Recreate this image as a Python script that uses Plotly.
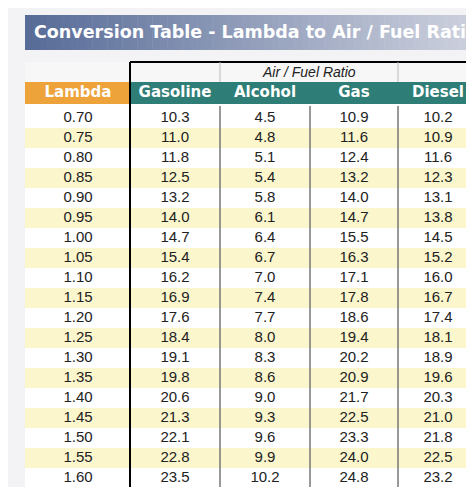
import plotly.graph_objects as go

lambdas = ["0.70", "0.75", "0.80", "0.85", "0.90", "0.95", "1.00", "1.05", "1.10", "1.15",
           "1.20", "1.25", "1.30", "1.35", "1.40", "1.45", "1.50", "1.55", "1.60"]
gasoline = [10.3, 11.0, 11.8, 12.5, 13.2, 14.0, 14.7, 15.4, 16.2, 16.9, 17.6, 18.4, 19.1, 19.8, 20.6, 21.3, 22.1, 22.8, 23.5]
alcohol = [4.5, 4.8, 5.1, 5.4, 5.8, 6.1, 6.4, 6.7, 7.0, 7.4, 7.7, 8.0, 8.3, 8.6, 9.0, 9.3, 9.6, 9.9, 10.2]
gas = [10.9, 11.6, 12.4, 13.2, 14.0, 14.7, 15.5, 16.3, 17.1, 17.8, 18.6, 19.4, 20.2, 20.9, 21.7, 22.5, 23.3, 24.0, 24.8]
diesel = [10.2, 10.9, 11.6, 12.3, 13.1, 13.8, 14.5, 15.2, 16.0, 16.7, 17.4, 18.1, 18.9, 19.6, 20.3, 21.0, 21.8, 22.5, 23.2]
headers = ["Lambda", "Gasoline", "Alcohol", "Gas", "Diesel"]
title = "Conversion Table - Lambda to Air / Fuel Ratio"

W, H = 474, 487
OFF = 8  # page body margin
col_x = [78, 175, 265, 354, 438]
row0, row_h = 118, 20
FONT = "Liberation Sans, Arial"

shapes = []
shapes.append(dict(type="rect", x0=OFF, x1=W, y0=OFF, y1=H, fillcolor="#f3f3f6", line_width=0, layer="below"))
# title bar gradient
n = 60
c0, c1 = (88, 108, 152), (205, 209, 222)
for k in range(n):
    t = k / (n - 1)
    c = tuple(int(c0[j] + (c1[j] - c0[j]) * t) for j in range(3))
    x0 = 25 + (W - 25) * k / n
    shapes.append(dict(type="rect", x0=x0, x1=x0 + (W - 25) / n + 0.5, y0=15, y1=50,
                       fillcolor="rgb(%d,%d,%d)" % c, line_width=0, layer="below"))
# table body background
shapes.append(dict(type="rect", x0=25, x1=W, y0=62, y1=H, fillcolor="white", line_width=0, layer="below"))
# stripes
for i in range(len(lambdas)):
    if i % 2 == 1:
        y0 = row0 - row_h / 2 + i * row_h
        shapes.append(dict(type="rect", x0=25, x1=W, y0=y0, y1=y0 + row_h,
                           fillcolor="#fbf6cc", line_width=0, layer="below"))
# header rows
shapes.append(dict(type="rect", x0=25, x1=W, y0=62, y1=82, fillcolor="#f7f7f7", line_width=0, layer="below"))
shapes.append(dict(type="rect", x0=25, x1=130, y0=82, y1=104, fillcolor="#eda23a", line_width=0, layer="below"))
shapes.append(dict(type="rect", x0=130, x1=W, y0=82, y1=104, fillcolor="#2f7d77", line_width=0, layer="below"))
# lines
shapes.append(dict(type="line", x0=130, x1=W, y0=62, y1=62, line=dict(color="black", width=2)))
shapes.append(dict(type="line", x0=130, x1=130, y0=62, y1=H, line=dict(color="black", width=2)))
for x in [220, 398]:
    shapes.append(dict(type="line", x0=x, x1=x, y0=62, y1=82, line=dict(color="#bbbbbb", width=1)))
for x in [220, 310, 398]:
    shapes.append(dict(type="line", x0=x, x1=x, y0=106, y1=H, line=dict(color="#777777", width=1.5)))

fig = go.Figure()
ys = [row0 + i * row_h for i in range(len(lambdas))]
cols = [lambdas, gasoline, alcohol, gas, diesel]
for cx, vals in zip(col_x, cols):
    fig.add_trace(go.Scatter(x=[cx] * len(vals), y=ys, mode="text",
                             text=[v if isinstance(v, str) else "%.1f" % v for v in vals],
                             textfont=dict(family=FONT, size=15, color="#222222"),
                             hoverinfo="skip", showlegend=False))
fig.add_trace(go.Scatter(x=col_x, y=[93] * 5, mode="text",
                         text=["<b>%s</b>" % h for h in headers],
                         textfont=dict(family="DejaVu Sans", size=15, color="white"),
                         hoverinfo="skip", showlegend=False))

annotations = [
    dict(x=32, y=32, xref="x", yref="y", text="<b>%s</b>" % title, showarrow=False,
         xanchor="left", font=dict(family="DejaVu Sans", size=17.5, color="white")),
    dict(x=309, y=72, xref="x", yref="y", text="<i>Air / Fuel Ratio</i>", showarrow=False,
         font=dict(family=FONT, size=14, color="#222222")),
]

fig.update_layout(width=W - OFF, height=H - OFF, margin=dict(l=0, r=0, t=0, b=0),
                  plot_bgcolor="white", paper_bgcolor="white",
                  shapes=shapes, annotations=annotations,
                  xaxis=dict(range=[OFF, W], visible=False, fixedrange=True),
                  yaxis=dict(range=[H, OFF], visible=False, fixedrange=True))
fig.write_html("out.html", config={"displayModeBar": False})
